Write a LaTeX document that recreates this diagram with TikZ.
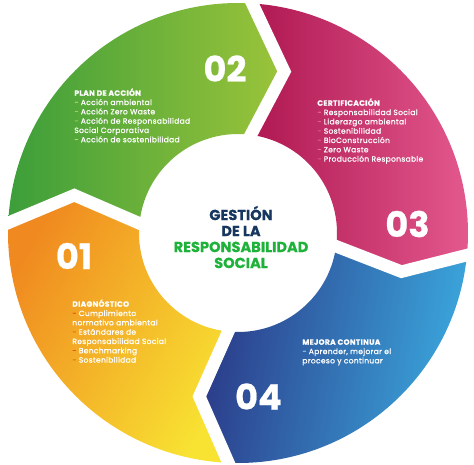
\documentclass[tikz,border=0pt]{standalone}
\usepackage{fontspec}
\setmainfont{Poppins}[BoldFeatures={FakeBold=0.6}]
\newfontfamily\medio{Poppins}[FakeBold=0.9, LetterSpace=4]
\definecolor{verdeA}{HTML}{3C9E3A}
\definecolor{verdeB}{HTML}{9CC43A}
\definecolor{rosaA}{HTML}{AE1650}
\definecolor{rosaB}{HTML}{E3598E}
\definecolor{azulA}{HTML}{2B3988}
\definecolor{azulB}{HTML}{3BA9DE}
\definecolor{naranjaA}{HTML}{F08A20}
\definecolor{naranjaB}{HTML}{F8E232}
\definecolor{marino}{HTML}{17375F}
\definecolor{verdeT}{HTML}{1FB23A}
\definecolor{guionV}{HTML}{B5DC6E}
\definecolor{guionR}{HTML}{F06A9A}
\definecolor{guionN}{HTML}{E8541E}
\definecolor{guionA}{HTML}{8FD0F2}
\newcommand{\gn}[1]{\textcolor{#1}{-} }
\tikzset{
  hueco/.style={draw=white, line width=0.25cm, miter limit=10},
  numero/.style={text=white, inner sep=0pt, font=\fontsize{20}{22}\selectfont\bfseries},
  bloque/.style={anchor=north west, align=left, inner sep=0pt, text=white, font=\fontsize{4.3}{5.3}\selectfont\medio},
}
\begin{document}
\begin{tikzpicture}[x=0.02cm, y=0.02cm]
\useasboundingbox (-238,-231) rectangle (236,233);
\def\R{230}\def\r{99}\def\rm{168}

% anillo: cola (exterior, interior, punta) y cabeza (exterior, interior, punta)
\shade[left color=naranjaA, right color=naranjaB, shading angle=60]
  (269:\R) arc[start angle=269, end angle=178.8, radius=\R] -- (167:\rm) -- (177:\r)
  arc[start angle=177, end angle=267, radius=\r] -- (256.7:\rm) -- cycle;
\shade[left color=verdeA, right color=verdeB]
  (178.8:\R) arc[start angle=178.8, end angle=88, radius=\R] -- (74:\rm) -- (85.5:\r)
  arc[start angle=85.5, end angle=177, radius=\r] -- (167:\rm) -- cycle;
\shade[left color=rosaA, right color=rosaB]
  (88:\R) arc[start angle=88, end angle=-4.5, radius=\R] -- (-13.3:\rm) -- (-5.8:\r)
  arc[start angle=-5.8, end angle=85.5, radius=\r] -- (74:\rm) -- cycle;
\shade[left color=azulA, right color=azulB, shading angle=80]
  (355.5:\R) arc[start angle=355.5, end angle=269, radius=\R] -- (256.7:\rm) -- (267:\r)
  arc[start angle=267, end angle=354.2, radius=\r] -- (346.7:\rm) -- cycle;

% separaciones
\foreach \o/\i/\t in {178.8/177/167, 88/85.5/74, -4.5/-5.8/-13.3, 269/267/256.7}
{
  \draw[hueco] (\o:\R+12) -- (\t:\rm) -- (\i:\r-12);
}

\node[numero] (n01) at (-164,-23) {01};
\node[numero] (n02) at (-13,164.5) {02};
\node[numero] (n03) at (169.5,9) {03};
\node[numero] (n04) at (20.5,-163.5) {04};

\node[align=center, inner sep=0pt, font=\fontsize{8.3}{9.1}\selectfont\bfseries] (centro) at (3,-4)
  {\textcolor{marino}{GESTIÓN}\\ \textcolor{marino}{DE LA}\\ \textcolor{verdeT}{RESPONSABILIDAD}\\ \textcolor{verdeT}{SOCIAL}};

\node[bloque] (plan) at (-164,145) {\textbf{PLAN DE ACCIÓN}\\
  \gn{guionV}Acción ambiental\\ \gn{guionV}Acción Zero Waste\\
  \gn{guionV}Acción de Responsabilidad\\ Social Corporativa\\
  \gn{guionV}Acción de sostenibilidad};
\node[bloque] (cert) at (79,135) {\textbf{CERTIFICACIÓN}\\
  \gn{guionR}Responsabilidad Social\\ \gn{guionR}Liderazgo ambiental\\
  \gn{guionR}Sostenibilidad\\ \gn{guionR}BioConstrucción\\
  \gn{guionR}Zero Waste\\ \gn{guionR}Producción Responsable};
\node[bloque] (diag) at (-166,-66) {\textbf{DIAGNÓSTICO}\\
  \gn{guionN}Cumplimiento\\ normativo ambiental\\
  \gn{guionN}Estándares de\\ Responsabilidad Social\\
  \gn{guionN}Benchmarking\\ \gn{guionN}Sostenibilidad};
\node[bloque] (mejora) at (64,-106) {\textbf{MEJORA CONTINUA}\\
  \gn{guionA}Aprender, mejorar el\\ proceso y continuar};
\end{tikzpicture}
\end{document}
